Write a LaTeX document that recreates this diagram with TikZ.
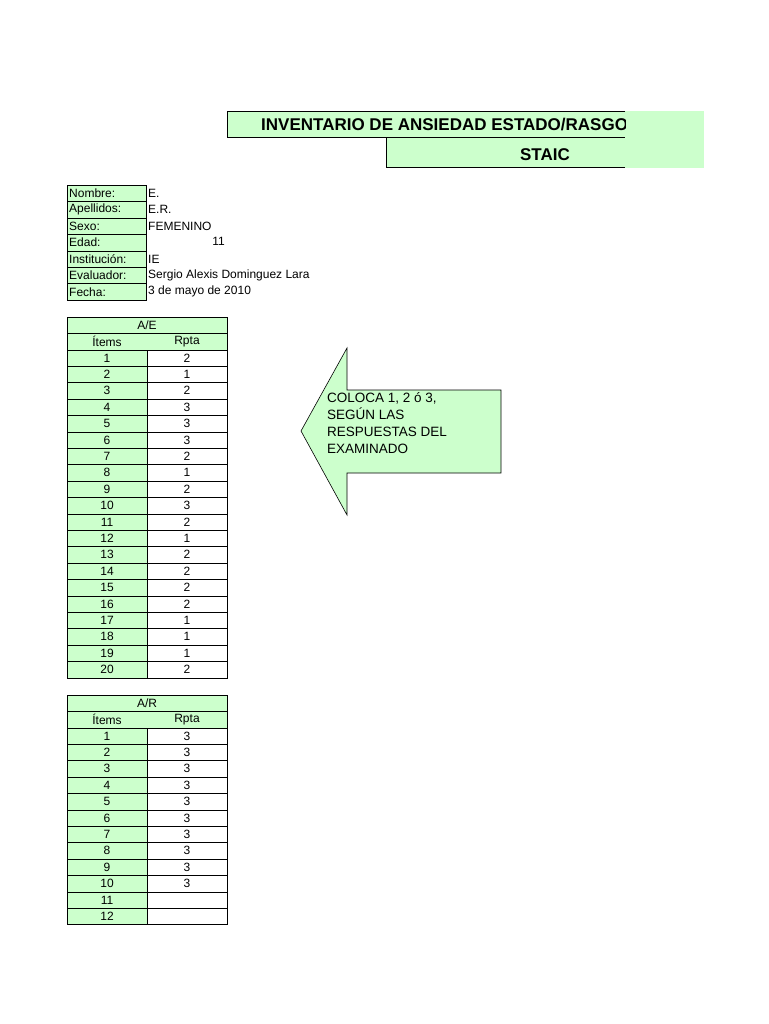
\documentclass[tikz,border=0pt]{standalone}
\usepackage{fontspec}
\setmainfont{Liberation Sans}
\definecolor{lg}{HTML}{CCFFCC}
\begin{document}
\begin{tikzpicture}[x=1pt,y=-1pt,
  cell/.style={draw=black,line width=0.6pt,inner sep=0pt,anchor=north west},
  txt/.style={font=\fontsize{12}{14}\selectfont,inner sep=0pt},
  ttl/.style={font=\fontsize{17}{19}\selectfont\bfseries,inner sep=0pt}]
\useasboundingbox (0,0) rectangle (768,1024);
% title
\fill[lg] (227,111) rectangle (704,138);
\fill[lg] (386,138) rectangle (704,168);
\begin{scope}
\clip (0,0) rectangle (625,200);
\node[ttl,anchor=west] (t1) at (261,125) {INVENTARIO DE ANSIEDAD ESTADO/RASGO};
\end{scope}
\node[ttl] (t2) at (545,155) {STAIC};
\draw[line width=0.8pt] (625,111) -- (227,111) -- (227,138);
\draw[line width=1.4pt] (227,137.5) -- (625,137.5);
\draw[line width=0.8pt] (386,138) -- (386,168);
\draw[line width=1.4pt] (386,167.5) -- (625,167.5);
% info
\foreach \l/\v [count=\i from 0] in {Nombre:/E.,Apellidos:/E.R.,Sexo:/FEMENINO,Edad:/,Institución:/IE,Evaluador:/Sergio Alexis Dominguez Lara,Fecha:/3 de mayo de 2010}{
  \pgfmathsetmacro\yy{185+\i*16.43}
  \draw[fill=lg] (67,\yy) rectangle (146,\yy+16.43);
  \node[txt,anchor=west] (l\i) at (69,\yy+8.2) {\l};
  \node[txt,anchor=west] (v\i) at (148,\yy+8.2) {\v};
}
\node[txt,anchor=east] (edad) at (225,241) {11};
% tables
\def\rowh{16.4}
\newcommand\mytable[4]{% top, title, nrows, values
  \draw[fill=lg] (67,#1) rectangle (227,#1+\rowh);
  \node[txt] at (147,#1+\rowh/2) {#2};
  \draw[fill=lg] (67,#1+\rowh) rectangle (147,#1+2*\rowh+#3*\rowh);
  \draw (147,#1+\rowh) rectangle (227,#1+2*\rowh+#3*\rowh);
  \fill[lg] (147,#1+\rowh) rectangle (227,#1+2*\rowh);
  \draw (67,#1+\rowh) rectangle (227,#1+2*\rowh);
  \node[txt] at (107,#1+1.5*\rowh) {Ítems};
  \node[txt] at (187,#1+1.5*\rowh) {Rpta};
  \foreach \v [count=\k] in {#4}{
    \pgfmathsetmacro\yy{#1+\rowh+\k*\rowh}
    \draw (67,\yy) -- (227,\yy);
    \node[txt] at (107,\yy+\rowh/2) {\k};
    \node[txt] at (187,\yy+\rowh/2) {\v};
  }
}
\mytable{317}{A/E}{20}{2,1,2,3,3,3,2,1,2,3,2,1,2,2,2,2,1,1,1,2}
\mytable{695}{A/R}{12}{3,3,3,3,3,3,3,3,3,3,{},{}}
% arrow
\draw[fill=lg,line width=0.6pt] (301,431) -- (347,348) -- (347,390) -- (501,390) -- (501,473) -- (347,473) -- (347,515) -- cycle;
\node[txt,anchor=north west,align=left,font=\fontsize{13.5}{17}\selectfont] (arr) at (327,392) {COLOCA 1, 2 ó 3,\\SEGÚN LAS\\RESPUESTAS DEL\\EXAMINADO};
\end{tikzpicture}
\end{document}
